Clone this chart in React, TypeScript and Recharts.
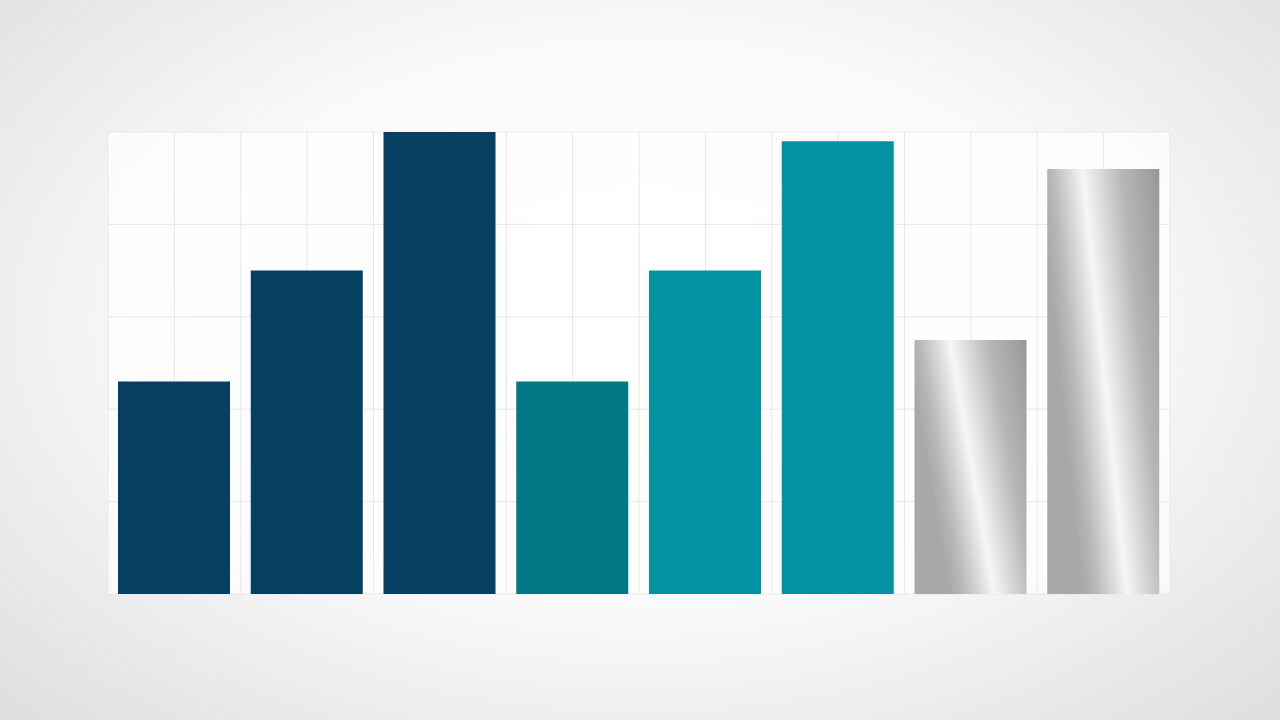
import { BarChart, Bar, XAxis, YAxis, CartesianGrid, Cell } from "recharts";

const categories = ["A1", "A2", "A3", "B1", "B2", "B3", "C1", "C2"];
const values = [46, 70, 100, 46, 70, 98, 55, 92];
const barColors = [
  "#063f62",
  "#063f62",
  "#063f62",
  "#027885",
  "#0193a2",
  "#0193a2",
  "url(#silver)",
  "url(#silver)",
];
const valueTicks = [0, 20, 40, 60, 80, 100];
// two grid columns per category
const columnTicks = [0, 1, 2, 3, 4, 5, 6, 7, 8, 9, 10, 11, 12, 13, 14, 15, 16];

const data = categories.map((name, i) => ({ name, value: values[i] }));

export default function App() {
  return (
    <div
      style={{
        position: "absolute",
        top: 0,
        left: 0,
        width: 1280,
        height: 720,
        background:
          "radial-gradient(ellipse at 50% 45%, #ffffff 0%, #fafafa 50%, #dedede 100%)",
      }}
    >
      <BarChart
        width={1280}
        height={720}
        data={data}
        margin={{ top: 132, right: 110, bottom: 126, left: 108 }}
        barCategoryGap={0}
      >
        <defs>
          <linearGradient id="silver" x1="0" y1="0.2" x2="1" y2="-0.2">
            <stop offset="0" stopColor="#a8a8a8" />
            <stop offset="0.1" stopColor="#b8b8b8" />
            <stop offset="0.22" stopColor="#d6d6d6" />
            <stop offset="0.34" stopColor="#f6f6f6" />
            <stop offset="0.5" stopColor="#d4d4d4" />
            <stop offset="0.64" stopColor="#b6b6b6" />
            <stop offset="0.82" stopColor="#a4a4a4" />
            <stop offset="1" stopColor="#8e8e8e" />
          </linearGradient>
        </defs>
        <CartesianGrid
          stroke="#e8e8e8"
          fill="#ffffff"
          fillOpacity={0.7}
          verticalCoordinatesGenerator={({ offset }) =>
            columnTicks.map(
              (t) =>
                offset.left +
                (offset.width * t) / columnTicks[columnTicks.length - 1]
            )
          }
        />
        <XAxis dataKey="name" hide />
        <YAxis domain={[0, 100]} ticks={valueTicks} hide />
        <Bar dataKey="value" barSize={112} isAnimationActive={false}>
          {data.map((entry, index) => (
            <Cell key={`bar-${index}`} fill={barColors[index]} />
          ))}
        </Bar>
      </BarChart>
    </div>
  );
}
